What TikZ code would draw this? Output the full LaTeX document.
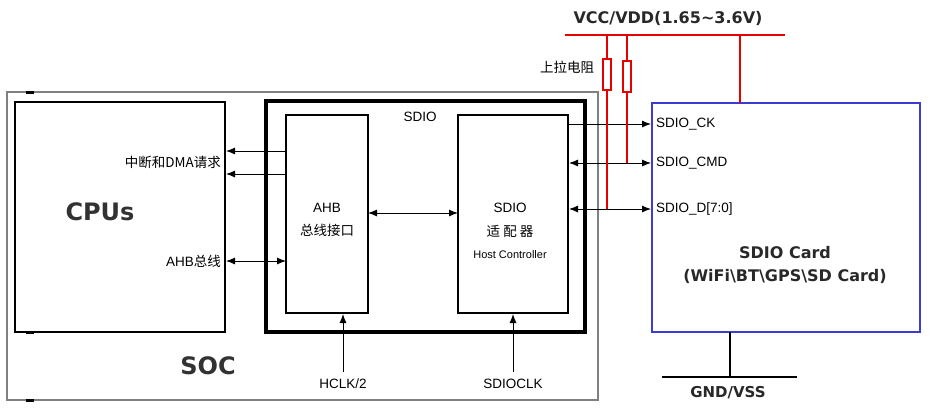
\documentclass[tikz,border=0pt]{standalone}
\usepackage{fontspec}
\setmainfont{Liberation Sans}
\newfontfamily\cjk{Noto Sans CJK SC}
\newfontfamily\dv{DejaVu Sans}
\usetikzlibrary{arrows.meta}
\begin{document}
\begin{tikzpicture}[x=1pt,y=-1pt,
 blk/.style={draw=black,line width=2.4pt},
 ar/.style={-{Latex[length=9pt,width=7pt]},line width=0.9pt},
 dar/.style={{Latex[length=9pt,width=7pt]}-{Latex[length=9pt,width=7pt]},line width=0.9pt},
 red/.style={draw={rgb,255:red,230;green,0;blue,0},line width=1.4pt},
 lab/.style={font=\fontsize{13.5}{16}\selectfont,inner sep=1pt},
 big/.style={font=\dv\bfseries\fontsize{24}{28}\selectfont,text={rgb,255:red,50;green,50;blue,50}},
 bold/.style={font=\dv\bfseries\fontsize{16}{19}\selectfont,text={rgb,255:red,40;green,40;blue,40}}]
\useasboundingbox (0,0) rectangle (933,413);
% boxes
\draw[gray,line width=1.2pt] (7,92) rectangle (598,400);
\draw[blk] (15,102) rectangle (225,332);
\draw[line width=3.2pt] (266,101) rectangle (585,332);
\draw[blk] (286,115) rectangle (368,313);
\draw[blk] (458,115) rectangle (568,313);
\draw[draw={rgb,255:red,60;green,60;blue,210},line width=2.4pt] (652,103) rectangle (920,332);
% ticks
\foreach \yy in {92,332,400} \draw[line width=3pt] (26,\yy) -- (34,\yy);
% texts
\node[big] (cpu) at (100,212) {CPUs};
\node[big] (soc) at (208,366) {SOC};
\node[lab] (sdio) at (420,117) {SDIO};
\node[lab,anchor=east] (irq) at (222,162) {\cjk 中断和DMA请求};
\node[lab,anchor=east] (ahbl) at (222,261) {AHB{\cjk 总线}};
\node[lab] (ahb1) at (327,208) {AHB};
\node[lab] (ahb2) at (327,230) {\cjk 总线接口};
\node[lab] (h1) at (510,208) {SDIO};
\node[lab] (h2) at (510,231) {\cjk 适 配 器};
\node[lab,font=\fontsize{11}{13}\selectfont] (h3) at (510,255) {Host Controller};
\node[lab] (hclk) at (343,384) {HCLK/2};
\node[lab] (sclk) at (513,384) {SDIOCLK};
\node[lab,anchor=west] (ck) at (655,124) {SDIO\_CK};
\node[lab,anchor=west] (cmd) at (655,163) {SDIO\_CMD};
\node[lab,anchor=west] (dat) at (655,209) {SDIO\_D[7:0]};
\node[lab] (pull) at (567,67) {\cjk 上拉电阻};
\node[bold] (vcc) at (668,18) {VCC/VDD(1.65\char"223C 3.6V)};
\node[bold] (c1) at (785,253) {SDIO Card};
\node[bold] (c2) at (785,276) {(WiFi\textbackslash BT\textbackslash GPS\textbackslash SD Card)};
\node[bold,font=\dv\bfseries\fontsize{15}{18}\selectfont] (gnd) at (728,393) {GND/VSS};
% connectors
\coordinate (a1) at (286,151); \coordinate (c1a) at (226,151);
\coordinate (a2) at (286,174); \coordinate (c2a) at (226,174);
\coordinate (a3) at (286,261); \coordinate (c3a) at (226,261);
\draw[ar] (a1) -- (c1a);
\draw[ar] (a2) -- (c2a);
\draw[dar] (c3a) -- (a3);
\draw[dar] (368,213) -- (458,213);
\draw[ar] (343,372) -- (343,314);
\draw[ar] (513,372) -- (513,314);
\draw[ar] (568,124) -- (651,124);
\draw[dar] (569,163) -- (651,163);
\draw[dar] (569,209) -- (651,209);
% red
\draw[red] (565,35) -- (785,35);
\draw[red] (607,35) -- (607,59) (607,90) -- (607,209);
\draw[red] (627,35) -- (627,61) (627,92) -- (627,163);
\draw[red] (603,59) rectangle (611,90);
\draw[red] (623,61) rectangle (631,92);
\draw[red] (740,35) -- (740,103);
% gnd
\draw[line width=1.2pt] (730,332) -- (730,377);
\draw[line width=2.6pt] (662,377) -- (797,377);
\end{tikzpicture}
\end{document}
